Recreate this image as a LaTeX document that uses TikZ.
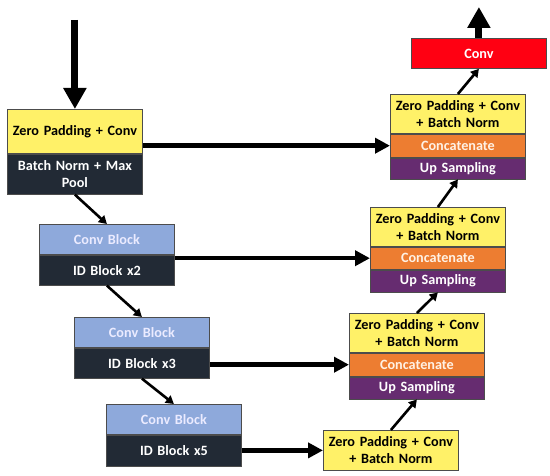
\documentclass[tikz,border=0pt]{standalone}
\usepackage{fontspec}
\setmainfont{Carlito}
\usetikzlibrary{positioning,arrows.meta}
\definecolor{padyellow}{HTML}{FFF168}
\definecolor{darkslate}{HTML}{222A35}
\definecolor{convblue}{HTML}{8EA9DB}
\definecolor{catorange}{HTML}{ED7D31}
\definecolor{uppurple}{HTML}{662C70}
\definecolor{outred}{HTML}{FF0012}

\begin{document}
\begin{tikzpicture}[x=1pt, y=-1pt, node distance=0pt,
    font=\bfseries\fontsize{14.2}{17}\selectfont,
    part/.style = {draw=black!70, line width=0.8pt, minimum width=135pt, text width=133pt, inner sep=0pt, align=center},
    zp/.style = {part, fill=padyellow, text=black, minimum height=39pt},
    dark/.style = {part, fill=darkslate, text=white, minimum height=30pt},
    cb/.style = {part, fill=convblue, text=blue!8!white, minimum height=30pt},
    cat/.style = {part, fill=catorange, text=orange!10!white, minimum height=23pt},
    up/.style = {part, fill=uppurple, text=white, minimum height=22pt},
    stepar/.style = {-{Triangle[length=8pt,width=9pt]}, line width=2.6pt},
    skip/.style = {-{Triangle[length=15pt,width=15pt]}, line width=4.5pt},
    bigarr/.style = {-{Triangle[length=21pt,width=22pt]}, line width=7pt}]
    \useasboundingbox (0,0) rectangle (550,476);
    % encoder
    \node[zp, anchor=north west, minimum height=44pt] (e1a) at (7,109) {Zero Padding + Conv};
    \node[dark, minimum height=40pt] (e1b) [below=of e1a] {Batch Norm + Max\\Pool};
    \node[cb, anchor=north west] (e2a) at (39,224) {Conv Block};
    \node[dark] (e2b) [below=of e2a] {ID Block x2};
    \node[cb, anchor=north west] (e3a) at (74,317) {Conv Block};
    \node[dark] (e3b) [below=of e3a] {ID Block x3};
    \node[cb, anchor=north west] (e4a) at (106,404) {Conv Block};
    \node[dark, minimum height=31pt] (e4b) [below=of e4a] {ID Block x5};
    % decoder
    \node[zp, anchor=north west, minimum height=40pt] (bott) at (323,430) {Zero Padding + Conv\\+ Batch Norm};
    \node[zp, anchor=north west] (d3a) at (349,313) {Zero Padding + Conv\\+ Batch Norm};
    \node[cat] (d3b) [below=of d3a] {Concatenate};
    \node[up] (d3c) [below=of d3b] {Up Sampling};
    \node[zp, anchor=north west] (d2a) at (370,207) {Zero Padding + Conv\\+ Batch Norm};
    \node[cat, minimum height=22pt] (d2b) [below=of d2a] {Concatenate};
    \node[up] (d2c) [below=of d2b] {Up Sampling};
    \node[zp, anchor=north west] (d1a) at (390,94) {Zero Padding + Conv\\+ Batch Norm};
    \node[cat] (d1b) [below=of d1a] {Concatenate};
    \node[up, minimum height=21pt] (d1c) [below=of d1b] {Up Sampling};
    \node[part, anchor=north west, fill=outred, text=white, minimum height=30pt] (out) at (411,38) {Conv};
    \coordinate (in) at ([yshift=89pt]e1a.north);
    \coordinate (top) at ([yshift=31pt]out.north);
    % arrows
    \draw[bigarr] (in) -- (e1a);
    \draw[bigarr] (out) -- (top);
    \draw[stepar] (e1b.south) -- (e2a.north);
    \draw[stepar] (e2b.south) -- (e3a.north);
    \draw[stepar] (e3b.south) -- (e4a.north);
    \draw[stepar] (bott.north) -- (d3c.south);
    \draw[stepar] (d3a.north) -- (d2c.south);
    \draw[stepar] (d2a.north) -- (d1c.south);
    \draw[stepar] (d1a.north) -- (out.south);
    \draw[skip] (d1b.west -| e1a.east) -- (d1b.west);
    \draw[skip] (d2b.west -| e2b.east) -- (d2b.west);
    \draw[skip] (d3b.west -| e3b.east) -- (d3b.west);
    \draw[skip] (bott.west -| e4b.east) -- (bott.west);
\end{tikzpicture}
\end{document}
